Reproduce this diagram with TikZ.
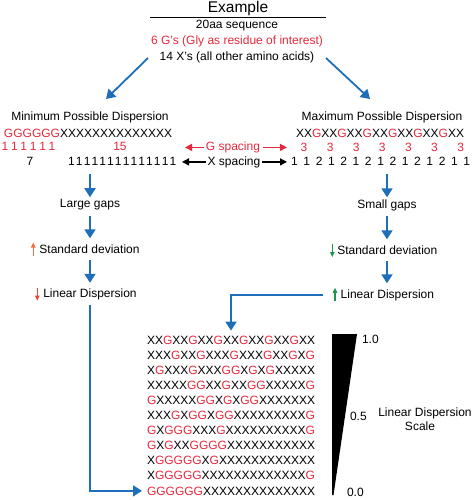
\documentclass[tikz,border=0pt]{standalone}
\usepackage{fontspec}
\setmainfont{Liberation Sans}
\usetikzlibrary{arrows.meta}
\definecolor{myblue}{RGB}{30,110,185}
\definecolor{seqred}{RGB}{230,40,60}
\definecolor{uporange}{RGB}{242,110,70}
\definecolor{downred}{RGB}{235,70,55}
\definecolor{mygreen}{RGB}{30,150,80}
\newcommand\gG{\textcolor{seqred}{G}}
\begin{document}
\begin{tikzpicture}[x=1pt,y=-1pt,
  every node/.style={inner sep=0pt, outer sep=0pt, font=\fontsize{12}{14}\selectfont},
  lbl/.style={anchor=base},
  seq/.style={anchor=base west},
  flow/.style={draw=myblue, line width=1.8pt, -{Triangle[width=11pt,length=9pt]}},
  spacer/.style={line width=1.3pt, -{Triangle[width=7pt,length=7pt]}},
  mini/.style={line width=1.1pt, -{Triangle[width=4.5pt,length=5pt]}}
]
\useasboundingbox (0,0) rectangle (474,500);

% header
\node[lbl, font=\fontsize{15.5}{18}\selectfont] (ex) at (238,13) {Example};
\coordinate (ruleL) at (150,17.5);
\coordinate (ruleR) at (326,17.5);
\draw[line width=1.4pt] (ruleL) -- (ruleR);
\node[lbl] (l1) at (237,29) {20aa sequence};
\node[lbl, text=seqred] (l2) at (237,45) {6 G’s (Gly as residue of interest)};
\node[lbl] (l3) at (237,61) {14 X’s (all other amino acids)};

\coordinate (tl) at (148,58);
\coordinate (tlend) at (106,99);
\coordinate (tr) at (326,58);
\coordinate (trend) at (370,99);
\draw[flow] (tl) -- (tlend);
\draw[flow] (tr) -- (trend);

% minimum side
\node[lbl] (minh) at (90,121) {Minimum Possible Dispersion};
\node[seq] (minseq) at (4,137) {\gG\gG\gG\gG\gG\gG XXXXXXXXXXXXXX};
\foreach \i in {0,...,5} \node[lbl, text=seqred] (gone\i) at ({5+9.4*\i},150.5) {1};
\node[lbl, text=seqred] (gfifteen) at (120,150.5) {15};
\node[lbl] (xseven) at (30,165) {7};
\foreach \i in {0,...,13} \node[lbl] (xone\i) at ({71.5+7.8*\i},165) {1};

% maximum side
\node[lbl] (maxh) at (382,121) {Maximum Possible Dispersion};
\node[seq] (maxseq) at (296,137.5) {XX\gG XX\gG XX\gG XX\gG XX\gG XX\gG XX};
\foreach \i in {0,...,6} \node[lbl, text=seqred] (gthree\i) at ({304+26.1*\i},151) {3};
\foreach \n [count=\i from 0] in {1,1,2,1,2,1,2,1,2,1,2,1,2,1,1}
  \node[lbl] (xr\i) at ({294.5+12.3*\i},165) {\n};

% spacing labels
\node[lbl, text=seqred] (gsp) at (233,150.5) {G spacing};
\node[lbl] (xsp) at (234,165) {X spacing};
\coordinate (gL) at (185,147);
\coordinate (gR) at (287,147);
\coordinate (xL) at (182,162);
\coordinate (xR) at (287,162);
\draw[spacer, seqred, shorten <=2pt] (gsp.west) -- (gsp.west -| gL);
\draw[spacer, seqred, shorten <=3pt] (gsp.east) -- (gsp.east -| gR);
\draw[spacer, black, shorten <=2pt] (xsp.west) -- (xsp.west -| xL);
\draw[spacer, black, shorten <=2pt] (xsp.east) -- (xsp.east -| xR);

% left column
\node[lbl] (lg) at (90,207.5) {Large gaps};
\node[lbl] (sdL) at (89.5,253) {Standard deviation};
\node[lbl] (ldL) at (90,297.5) {Linear Dispersion};
\coordinate (a1) at (90,174);
\draw[flow, shorten >=2pt] (a1) -- (a1 |- lg.north);
\draw[flow, shorten <=6pt, shorten >=6pt] (lg.south) -- (lg.south |- sdL.north);
\draw[flow, shorten <=7pt, shorten >=6pt] (lg.south |- sdL.south) -- (lg.south |- ldL.north);

% right column
\node[lbl] (sg) at (387,208) {Small gaps};
\node[lbl] (sdR) at (387.3,254) {Standard deviation};
\node[lbl] (ldR) at (387.4,298) {Linear Dispersion};
\coordinate (a2) at (387,174);
\draw[flow, shorten >=2pt] (a2) -- (a2 |- sg.north);
\draw[flow, shorten <=6pt, shorten >=6pt] (sg.south) -- (sg.south |- sdR.north);
\draw[flow, shorten <=7pt, shorten >=6pt] (sg.south |- sdR.south) -- (sg.south |- ldR.north);

% small indicator arrows
\draw[mini, uporange] (33.3,255.5) -- (33.3,242.5);
\draw[mini, downred] (37.3,287.5) -- (37.3,300.7);
\draw[mini, mygreen] (332.3,243.5) -- (332.3,257);
\draw[mini, mygreen] (335,301) -- (335,287.8);

% sequence block
\foreach \s [count=\i from 0] in {
  XX\gG XX\gG XX\gG XX\gG XX\gG XX\gG XX,
  XXX\gG XX\gG XXX\gG XXX\gG XX\gG X\gG,
  X\gG XXX\gG XXX\gG\gG X\gG X\gG XXXXX,
  XXXXX\gG\gG XX\gG XX\gG\gG XXXXX\gG,
  \gG XXXXX\gG\gG X\gG X\gG\gG XXXXXXX,
  XXX\gG X\gG\gG X\gG\gG XXXXXXXXX\gG,
  \gG X\gG\gG\gG XXX\gG XXXXXXXXXX\gG,
  \gG X\gG XX\gG\gG\gG\gG XXXXXXXXXXX,
  X\gG\gG\gG\gG\gG X\gG XXXXXXXXXXXX,
  X\gG\gG\gG\gG\gG XXXXXXXXXXXXX\gG,
  \gG\gG\gG\gG\gG\gG XXXXXXXXXXXXXX}
  \node[seq] (r\i) at (147,{344+15.1*\i}) {\s};

% connectors into block
\draw[flow, shorten <=5pt, shorten >=5pt] (ldL.south) |- (r10.west);
\draw[flow, shorten <=17.5pt, shorten >=5pt] (ldR.west) -| (r0.north);

% scale
\fill[black] (332,334) -- (357,334) -- (333.5,495) -- (332,495) -- cycle;
\node[anchor=base west] (sone) at (362,343) {1.0};
\node[anchor=base west] (shalf) at (350,420) {0.5};
\node[anchor=base west] (szero) at (347,496.5) {0.0};
\node[lbl] (lds1) at (425,416) {Linear Dispersion};
\node[lbl] (lds2) at (420,430) {Scale};
\end{tikzpicture}
\end{document}
